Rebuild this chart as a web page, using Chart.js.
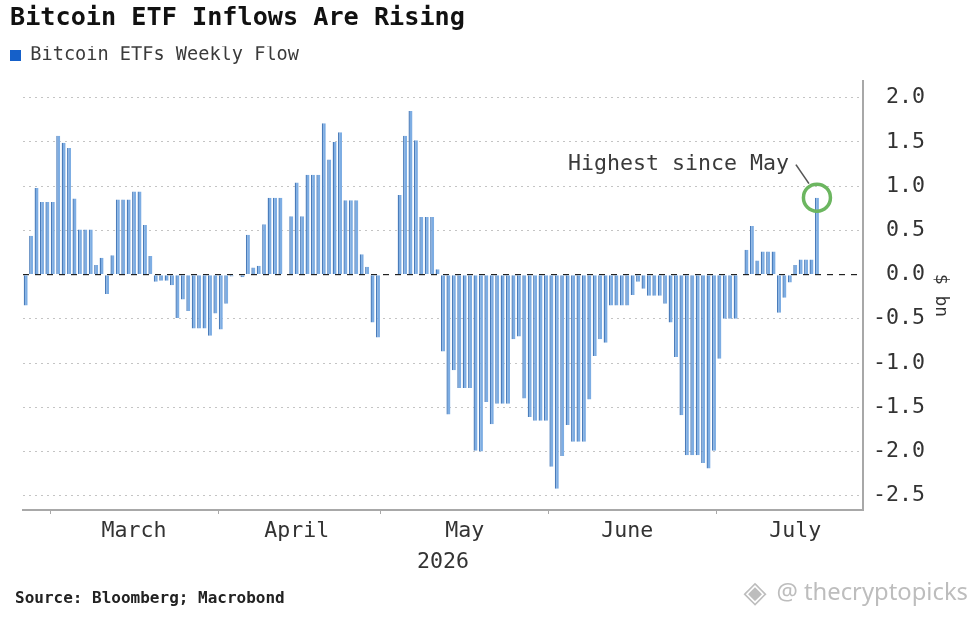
<!DOCTYPE html>
<html>
<head>
<meta charset="utf-8">
<script src="https://cdn.jsdelivr.net/npm/chart.js@4/dist/chart.umd.min.js"></script>
<style>html,body{margin:0;padding:0;background:#fff}canvas{display:block}</style>
</head>
<body>
<canvas id="c" width="975" height="618"></canvas>
<script>
const MONO = '"DejaVu Sans Mono", monospace';
const titleText = 'Bitcoin ETF Inflows Are Rising';
const seriesName = 'Bitcoin ETFs Weekly Flow';
const sourceText = 'Source: Bloomberg; Macrobond';
const noteText = 'Highest since May';
const watermarkIcon = '◈';
const watermarkText = '@ thecryptopicks';
const yearLabel = '2026';
const unitLabel = '$ bn';
const yTickValues = [2, 1.5, 1, 0.5, 0, -0.5, -1, -1.5, -2, -2.5];

const monthNames = ['Feb', 'Mar', 'Apr', 'May', 'Jun', 'Jul'];
const monthDays = [[24,28],[1,31],[1,30],[1,31],[1,30],[1,28]];
const monthTickLabels = {'Mar 16':'March','Apr 15':'April','May 16':'May','Jun 15':'June','Jul 16':'July'};
const monthStartTicks = ['Mar 1','Apr 1','May 1','Jun 1','Jul 2'];

const flows = [
-0.35,0.44,0.98,0.82,0.82,0.82,1.57,1.49,1.43,0.86,0.51,0.51,0.51,0.11,0.19,-0.22,0.22,0.85,0.85,0.85,
0.94,0.94,0.56,0.21,-0.08,-0.07,-0.07,-0.12,-0.49,-0.28,-0.41,-0.61,-0.61,-0.61,-0.69,-0.44,-0.62,-0.33,-0.02,0,
-0.03,0.45,0.08,0.10,0.57,0.87,0.87,0.87,0,0.66,1.04,0.66,1.13,1.13,1.13,1.71,1.30,1.50,1.61,0.84,
0.84,0.84,0.23,0.09,-0.54,-0.71,0,0,0,0.90,1.57,1.85,1.52,0.65,0.65,0.65,0.06,-0.87,-1.58,-1.08,
-1.28,-1.28,-1.28,-1.99,-2.00,-1.44,-1.69,-1.46,-1.46,-1.46,-0.73,-0.70,-1.40,-1.61,-1.65,-1.65,-1.65,-2.17,-2.42,-2.05,
-1.70,-1.89,-1.89,-1.89,-1.41,-0.92,-0.73,-0.77,-0.35,-0.35,-0.35,-0.35,-0.23,-0.08,-0.16,-0.24,-0.24,-0.24,-0.33,-0.54,
-0.93,-1.59,-2.04,-2.04,-2.04,-2.13,-2.19,-1.99,-0.95,-0.50,-0.50,-0.50,0,0.28,0.55,0.16,0.26,0.26,0.26,-0.43,
-0.26,-0.09,0.11,0.17,0.17,0.17,0.87];
const highlightValue = 0.87;

const categories = [];
monthNames.forEach((m, k) => {
  for (let d = monthDays[k][0]; d <= monthDays[k][1]; d++) categories.push(m + ' ' + d);
});
const highlightData = flows.map((v, i) => i === flows.length - 1 ? highlightValue : null);

const annotationPlugin = {
  id: 'annotationPlugin',
  afterDraw(chart) {
    const {ctx, scales} = chart;
    const cx = scales.x.getPixelForValue(flows.length - 1);
    const cy = scales.y.getPixelForValue(highlightValue);
    ctx.save();
    ctx.fillStyle = '#3a3a3a';
    ctx.font = '21.6px ' + MONO;
    ctx.textAlign = 'right';
    ctx.textBaseline = 'middle';
    ctx.fillText(noteText, cx - 28, cy - 33);
    ctx.strokeStyle = '#555';
    ctx.lineWidth = 1.6;
    ctx.beginPath();
    ctx.moveTo(cx - 21, cy - 33);
    ctx.lineTo(cx - 8, cy - 14);
    ctx.stroke();
    ctx.fillStyle = '#222';
    ctx.font = 'bold 16px ' + MONO;
    ctx.textAlign = 'left';
    ctx.fillText(sourceText, 15, 599);
    ctx.fillStyle = '#bdbdbd';
    ctx.font = '23.8px "Noto Sans", sans-serif';
    ctx.textAlign = 'right';
    ctx.fillText(watermarkText, 968, 593);
    ctx.font = '30px "DejaVu Sans", sans-serif';
    ctx.textAlign = 'center';
    ctx.fillText(watermarkIcon, 755, 594);
    ctx.restore();
  }
};

new Chart(document.getElementById('c'), {
  type: 'bar',
  plugins: [annotationPlugin],
  data: {
    labels: categories,
    datasets: [
      {
        label: seriesName,
        data: flows,
        backgroundColor: '#7dade3',
        borderColor: '#4a7cba',
        borderWidth: {left: 1.4, right: 0, top: 0, bottom: 0},
        borderSkipped: false,
        categoryPercentage: 1,
        barPercentage: 0.74,
        order: 2
      },
      {
        type: 'line',
        label: noteText,
        data: highlightData,
        showLine: false,
        pointRadius: 13.5,
        pointHoverRadius: 13.5,
        pointBorderWidth: 3.5,
        pointBorderColor: '#6cb660',
        pointBackgroundColor: 'rgba(0,0,0,0)',
        order: 1
      }
    ]
  },
  options: {
    responsive: false,
    animation: false,
    devicePixelRatio: 1,
    layout: {padding: {left: 10, right: 0, top: 0, bottom: 43}},
    plugins: {
      tooltip: {enabled: false},
      title: {
        display: true, text: titleText, align: 'start', color: '#111',
        font: {family: MONO, size: 25.2, weight: 'bold'},
        padding: {top: 3, bottom: 13}
      },
      legend: {
        display: true, align: 'start',
        labels: {
          generateLabels: () => [{text: seriesName, fillStyle: '#1560c9', strokeStyle: '#1560c9', fontColor: '#3a3a3a', lineWidth: 0, datasetIndex: 0}],
          boxWidth: 11, boxHeight: 11, padding: 0,
          color: '#3a3a3a',
          font: {family: MONO, size: 18.6}
        }
      }
    },
    scales: {
      x: {
        type: 'category',
        offset: true,
        border: {display: true, color: '#a8a8a8', width: 2},
        grid: {
          offset: true, drawOnChartArea: false, drawTicks: true, tickLength: 4,
          color: 'rgba(0,0,0,0)',
          tickColor: ctx => ctx.tick && monthStartTicks.includes(categories[ctx.index]) ? '#a8a8a8' : 'rgba(0,0,0,0)'
        },
        ticks: {
          autoSkip: false, maxRotation: 0, minRotation: 0, padding: 4,
          color: '#333', font: {family: MONO, size: 21.6},
          callback: (v, i) => monthTickLabels[categories[i]] || ''
        },
        title: {display: true, text: yearLabel, color: '#333', font: {family: MONO, size: 21.6}, padding: {top: 2, bottom: 0}},
        afterFit: s => { s.height = 65; }
      },
      y: {
        position: 'right',
        min: -2.66, max: 2.19,
        afterBuildTicks: s => { s.ticks = yTickValues.map(v => ({value: v})); },
        border: {display: true, color: '#a8a8a8', width: 2, dash: ctx => ctx.tick && ctx.tick.value === 0 ? [6, 6] : [2, 4]},
        grid: {
          drawTicks: false,
          lineWidth: ctx => ctx.tick && ctx.tick.value === 0 ? 1.2 : 1,
          color: ctx => ctx.tick && ctx.tick.value === 0 ? '#222' : '#c4c4c4'
        },
        ticks: {
          padding: 10, crossAlign: 'near', color: '#333', font: {family: MONO, size: 21.6},
          callback: v => v.toFixed(1).padStart(4, ' ')
        },
        title: {display: true, text: unitLabel, color: '#333', font: {family: MONO, size: 18}, padding: {top: 24, bottom: 0}},
        afterFit: s => { s.width = 112; }
      },
      spacer: {
        position: 'left', display: true,
        ticks: {display: false}, grid: {display: false}, border: {display: false},
        afterFit: s => { s.width = 13; }
      },
      topSpacer: {
        type: 'linear', axis: 'x', position: 'top', display: true,
        ticks: {display: false}, grid: {display: false}, border: {display: false},
        afterFit: s => { s.height = 6; }
      }
    }
  }
});
</script>
</body>
</html>
